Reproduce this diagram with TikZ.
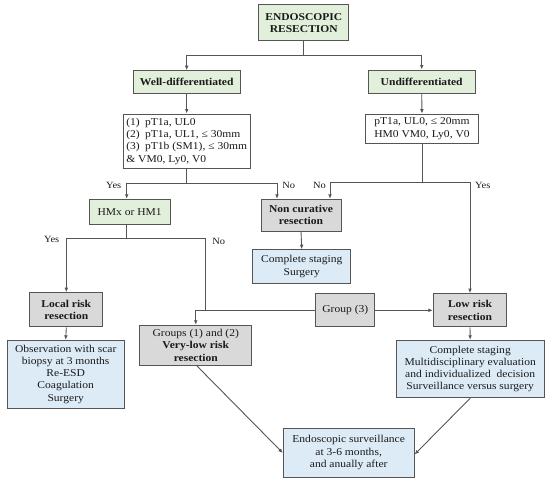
\documentclass[tikz,border=0pt]{standalone}
\usepackage{fontspec}
\setmainfont{Liberation Serif}[FakeStretch=1.1]
\usetikzlibrary{arrows.meta}
\definecolor{gfill}{HTML}{E2EFDA}
\definecolor{grfill}{HTML}{D9D9D9}
\definecolor{bfill}{HTML}{DDEBF7}
\definecolor{edge}{HTML}{555555}
\definecolor{txt}{HTML}{1A1A1A}
\tikzset{
  base/.style={draw=edge, line width=1pt, inner xsep=2pt, inner ysep=1pt, align=center,
    text=txt, font=\fontsize{10.5}{12.25}\selectfont},
  gbox/.style={base, fill=gfill},
  wbox/.style={base, fill=white},
  grbox/.style={base, fill=grfill},
  bbox/.style={base, fill=bfill},
  lbl/.style={text=txt, font=\fontsize{9.5}{11}\selectfont, inner sep=0pt},
  ln/.style={draw=edge, line width=0.9pt},
  arr/.style={ln, -{Latex[length=4.5pt,width=3.8pt]}},
}
\begin{document}
\begin{tikzpicture}[x=1pt,y=-1pt]
\useasboundingbox (0,0) rectangle (550,482);
% nodes
\node[gbox, minimum width=90.3pt, minimum height=35.7pt] (er) at (303.8,22.8) {\textbf{ENDOSCOPIC}\\\textbf{RESECTION}};
\node[gbox, minimum width=106.7pt, minimum height=22.6pt] (wd) at (186.7,82) {\textbf{Well-differentiated}};
\node[gbox, minimum width=106.7pt, minimum height=23.3pt] (ud) at (421.7,81.7) {\textbf{Undifferentiated}};
\node[wbox, align=left, minimum width=126.7pt, minimum height=54.3pt] (crl) at (186.7,141.2)
  {(1)\enspace pT1a, UL0\\(2)\enspace pT1a, UL1, ≤ 30mm\\(3)\enspace pT1b (SM1), ≤ 30mm\\\& VM0, Ly0, V0};
\node[wbox, minimum width=113.3pt, minimum height=29.3pt] (crr) at (422,128.7) {pT1a, UL0, ≤ 20mm\\HM0 VM0, Ly0, V0};
\node[gbox, minimum width=80.7pt, minimum height=25pt] (hm) at (129.7,211.8) {HMx or HM1};
\node[grbox, minimum width=80pt, minimum height=31.7pt] (nc) at (301,215.2) {\textbf{Non curative}\\\textbf{resection}};
\node[bbox, minimum width=98.3pt, minimum height=33.6pt] (cs1) at (301.8,266.5) {Complete staging\\Surgery};
\node[grbox, minimum width=72.7pt, minimum height=34.3pt] (loc) at (66.3,309.8) {\textbf{Local risk}\\\textbf{resection}};
\node[grbox, minimum width=59.3pt, minimum height=33.3pt] (g3) at (345.3,310.3) {Group (3)};
\node[grbox, minimum width=73.3pt, minimum height=33.3pt] (low) at (470,310.3) {\textbf{Low risk}\\\textbf{resection}};
\node[grbox, minimum width=111.7pt, minimum height=40pt] (vl) at (195.8,345.3) {Groups (1) and (2)\\\textbf{Very-low risk}\\\textbf{resection}};
\node[bbox, minimum width=116.7pt, minimum height=67.7pt] (obs) at (65.7,374.2) {Observation with scar\\biopsy at 3 months\\Re-ESD\\Coagulation\\Surgery};
\node[bbox, minimum width=148.3pt, minimum height=57.4pt] (cs2) at (470.2,369) {Complete staging\\Multidisciplinary evaluation\\and individualized\ \ decision\\Surveillance versus surgery};
\node[bbox, minimum width=130.7pt, minimum height=49pt] (es) at (348.7,452.5) {Endoscopic surveillance\\at 3-6 months,\\and anually after};
% junctions
\coordinate (j1) at (303.8,55.3);
\coordinate (j2) at (186.7,183);
\coordinate (j3) at (422,182.7);
\coordinate (j4) at (126.7,238.3);
\coordinate (j5) at (205.7,238.3);
\coordinate (j6) at (205.7,310.3);
% connectors
\draw[ln] (er.south) -- (j1);
\draw[arr] (j1) -| (wd.north);
\draw[arr] (j1) -| (ud.north);
\draw[arr] (wd.south) -- (crl.north);
\draw[arr] (ud.south) -- (crr.north);
\draw[ln] (crl.south) -- (j2);
\draw[arr] (j2) -| ([xshift=-3pt]hm.north);
\draw[arr] (j2) -| ([xshift=-24pt]nc.north);
\draw[ln] (crr.south) -- (j3);
\draw[arr] (j3) -| ([xshift=29pt]nc.north);
\draw[arr] (j3) -| (low.north);
\draw[ln] ([xshift=-3pt]hm.south) -- (j4);
\draw[arr] (j4) -| (loc.north);
\draw[ln] (j4) -- (j5) -- (j6);
\draw[arr] (g3.west) -| (vl.north);
\draw[arr] (g3.east) -- (low.west);
\draw[arr] (loc.south) -- (obs.north);
\draw[arr] (nc.south) -- (cs1.north);
\draw[arr] (low.south) -- (cs2.north);
\draw[arr] ([xshift=1pt]vl.south) -- ([yshift=-0.5pt]es.west);
\draw[arr] (cs2.south) -- ([yshift=-2pt]es.east);
% labels
\node[lbl] (y1) at (113.7,185) {Yes};
\node[lbl] (n1) at (288.7,185) {No};
\node[lbl] (n2) at (319.5,185) {No};
\node[lbl] (y2) at (482.8,185) {Yes};
\node[lbl] (y3) at (51.7,239.7) {Yes};
\node[lbl] (n3) at (218.7,241.3) {No};
\end{tikzpicture}
\end{document}
